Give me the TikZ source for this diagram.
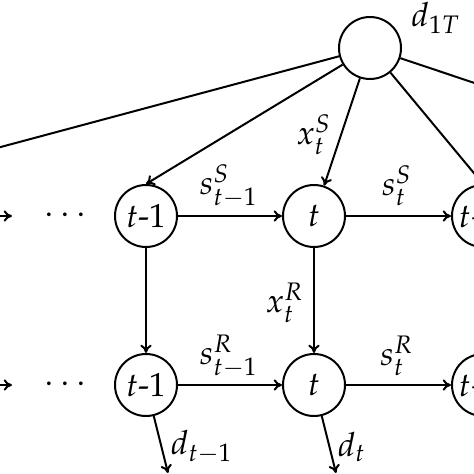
\documentclass[tikz,border=0pt]{standalone}
\usepackage[T1]{fontenc}
\usepackage{mathpazo}
\usetikzlibrary{arrows.meta}
\begin{document}
\begin{tikzpicture}[x=0.3pt,y=-0.3pt,
  st/.style={circle,draw,line width=0.6pt,minimum size=18.6pt,inner sep=0pt,font=\normalsize},
  lbl/.style={inner sep=0pt},
  conn/.style={line width=0.6pt},
  arr/.style={conn,-{To[length=2.5pt,width=3.4pt]}}]
\useasboundingbox (0,0) rectangle (474,474);
\clip (0,0) rectangle (474,474);
\node[st] (top) at (370,48) {};
\node[st] (s1) at (146,216) {$t$-1};
\node[st] (s2) at (314,216) {$t$};
\node[st] (s3) at (483,216) {$t$+1};
\node[st] (r1) at (146,385) {$t$-1};
\node[st] (r2) at (314,385) {$t$};
\node[st] (r3) at (483,385) {$t$+1};
\node[lbl] (ds) at (65,216) {$\cdots$};
\node[lbl] (dr) at (65,385) {$\cdots$};
\coordinate (ls0) at (-60,216);
\coordinate (ls1) at (12,216);
\coordinate (lr0) at (-60,385);
\coordinate (lr1) at (12,385);
\coordinate (farl) at (-100,174);
\coordinate (farr) at (570,115);
\coordinate (e1) at (168,473);
\coordinate (e2) at (336,473);
\draw[arr] (ls0) -- (ls1);
\draw[arr] (lr0) -- (lr1);
\draw[conn] (top) -- (farl);
\draw[conn] (top) -- (farr);
\draw[arr] (top) -- (s1.north);
\draw[arr] (top) -- (s2);
\draw[arr] (top) -- (s3.north);
\draw[arr] (s1) -- (s2);
\draw[arr] (s2) -- (s3);
\draw[arr] (r1) -- (r2);
\draw[arr] (r2) -- (r3);
\draw[arr] (s1) -- (r1);
\draw[arr] (s2) -- (r2);
\draw[arr] (r1) -- (e1);
\draw[arr] (r2) -- (e2);
\node[lbl] (l1) at (436,18) {$d_{1T}$};
\node[lbl] (l2) at (314,135) {$x_t^S$};
\node[lbl] (l3) at (229,186) {$s_{t-1}^S$};
\node[lbl] (l4) at (397,186) {$s_t^S$};
\node[lbl] (l5) at (285,303) {$x_t^R$};
\node[lbl] (l6) at (229,356) {$s_{t-1}^R$};
\node[lbl] (l7) at (397,356) {$s_t^R$};
\node[lbl] (l8) at (202,447) {$d_{t-1}$};
\node[lbl] (l9) at (352,447) {$d_t$};
\end{tikzpicture}
\end{document}
